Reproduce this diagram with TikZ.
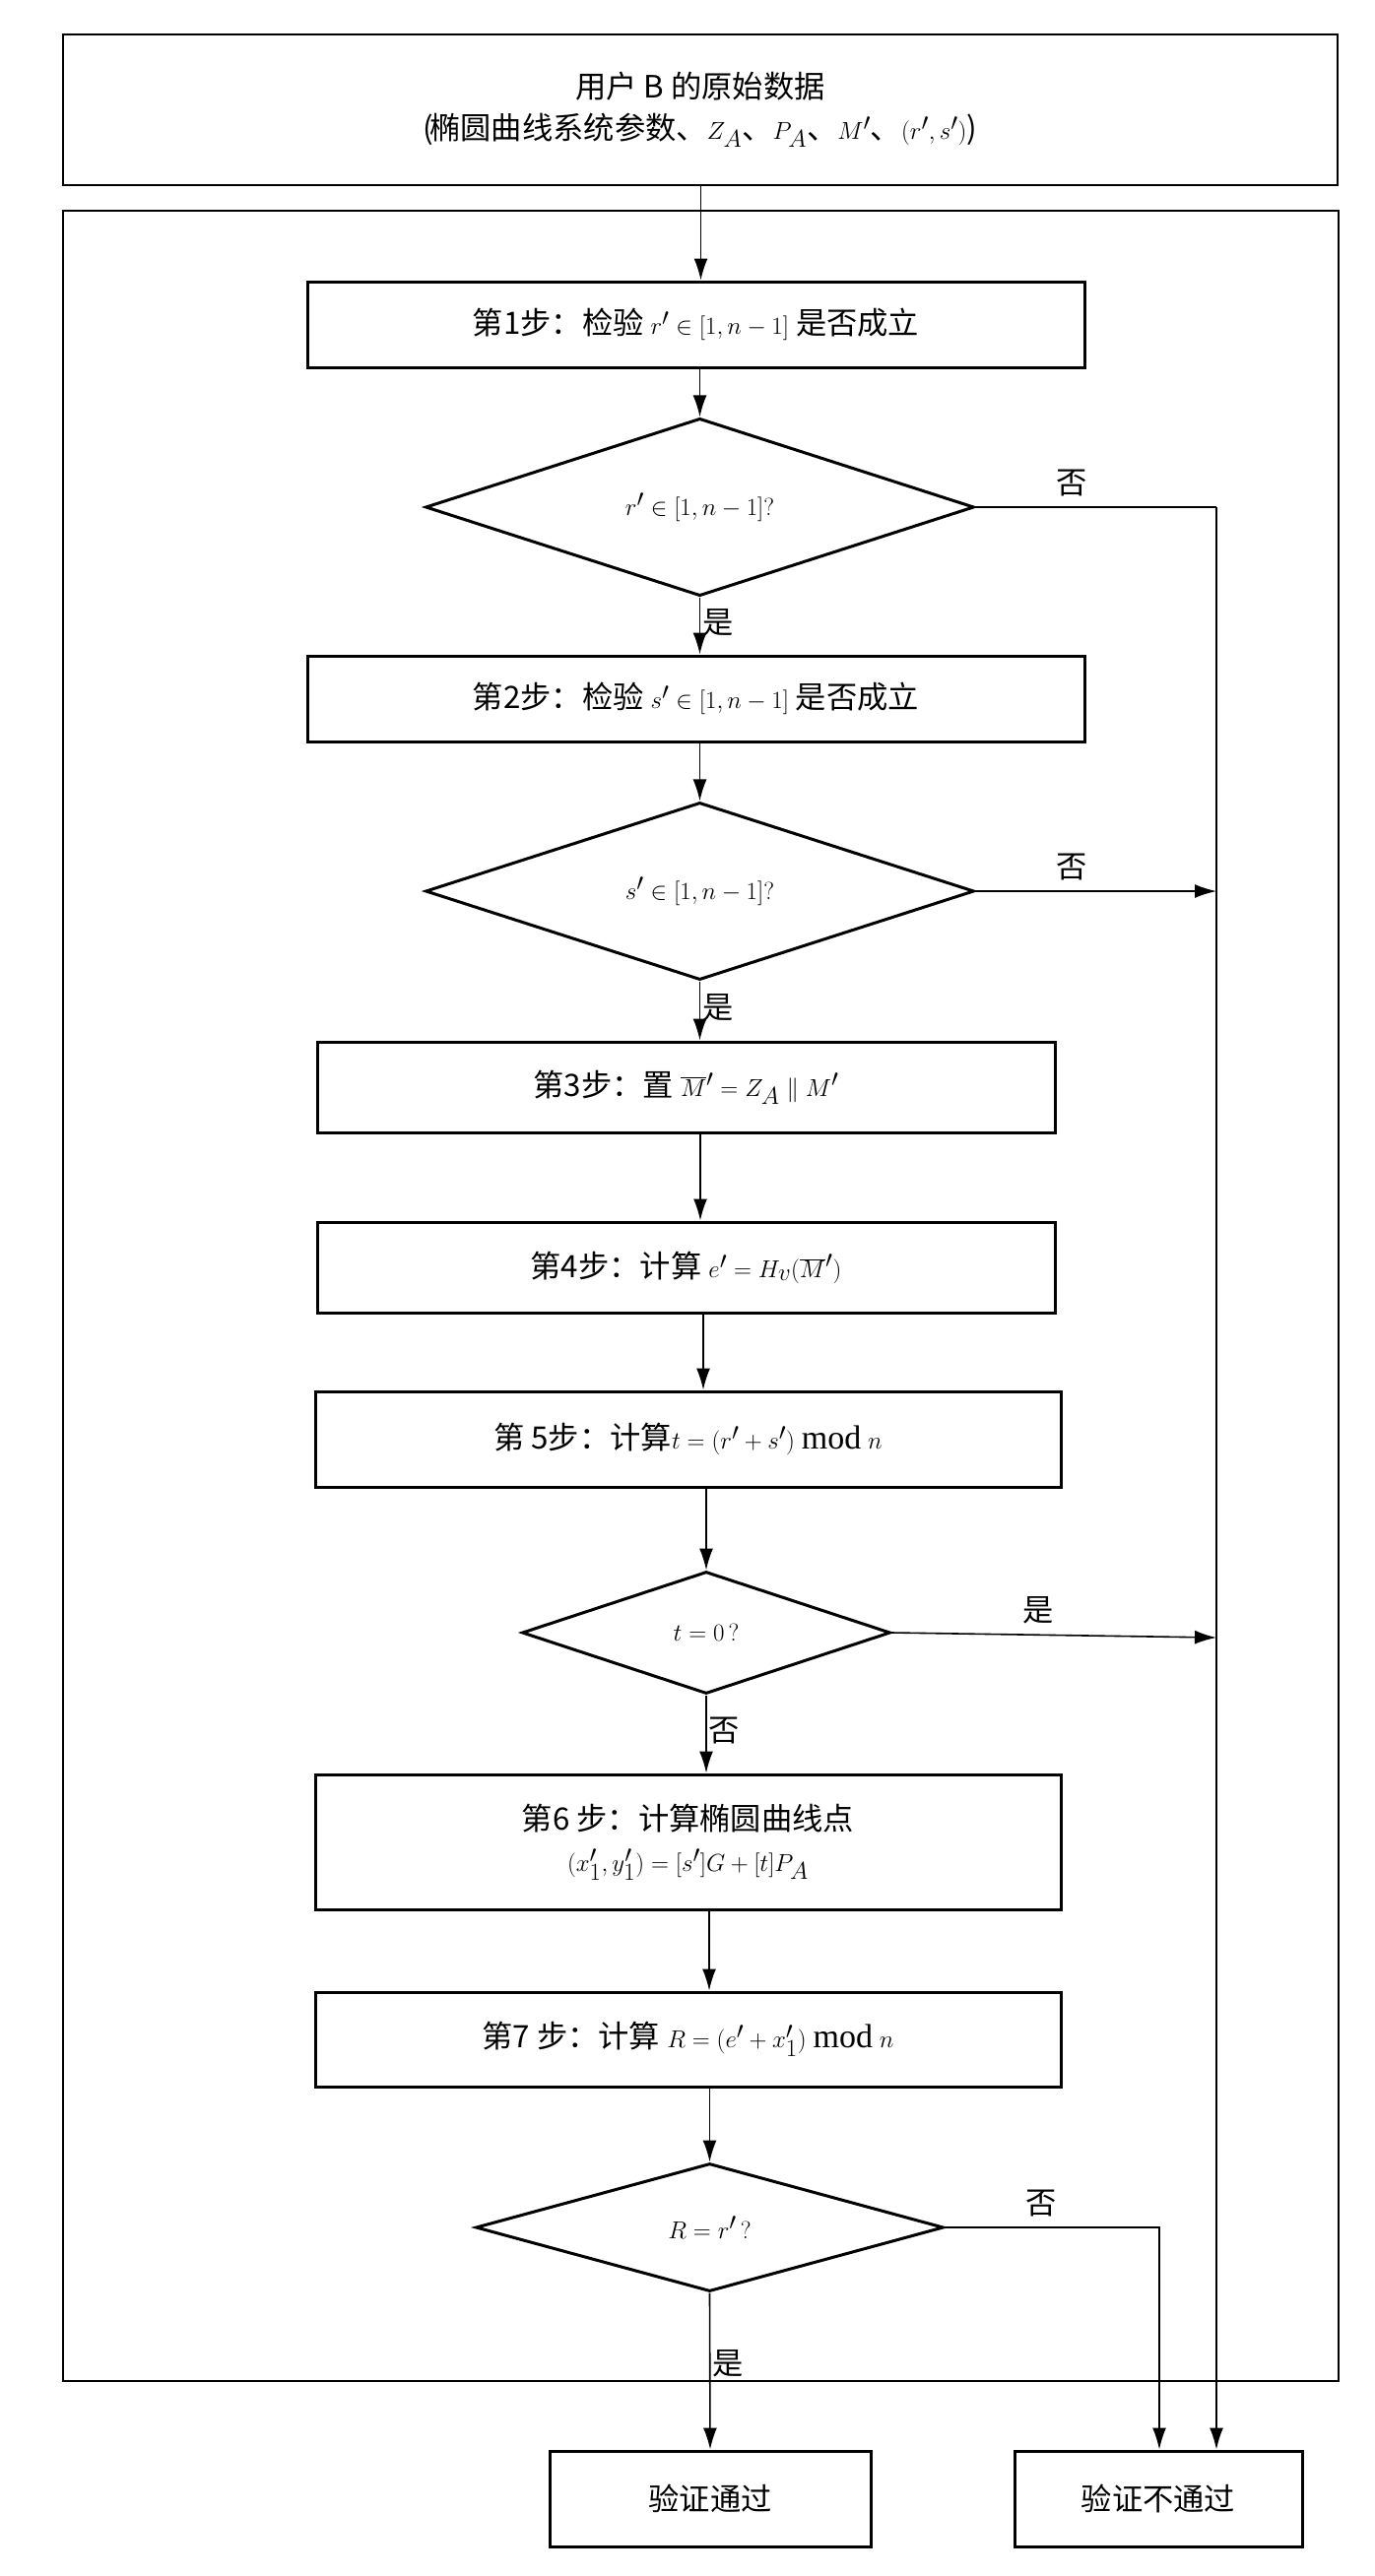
\documentclass[tikz,border=0pt]{standalone}
\usepackage{fontspec}
\setmainfont{Liberation Serif}
\newfontfamily\cjk{Noto Sans CJK SC}[Scale=0.92]
\usetikzlibrary{shapes.geometric,arrows.meta}
\begin{document}
\begin{tikzpicture}[x=1pt,y=-1pt,
  font=\fontsize{34}{42}\selectfont\cjk,
  stepbox/.style={draw,line width=3pt,inner sep=0pt,align=center},
  dec/.style={draw,diamond,line width=3pt,inner sep=0pt},
  arr/.style={-{Latex[length=22pt,width=14pt]},line width=1.6pt},
  ln/.style={line width=1.6pt},
  lab/.style={inner sep=2pt}]
\useasboundingbox[fill=white] (0,0) rectangle (1396,2616);
\node[draw,line width=2pt,minimum width=1294pt,minimum height=153pt,align=center] (top) at (711,111.5)
  {用户 B 的原始数据\\($\!$椭圆曲线系统参数、$Z_A$、$P_A$、$M'$、$(r',s')$)};
\draw[line width=2pt] (64,214) rectangle (1359,2418);
\node[stepbox,minimum width=789pt,minimum height=87pt] (s1) at (706.5,329.5) {第1步：检验 $r'\in[1,n-1]$ 是否成立};
\node[dec,minimum width=557pt,minimum height=150pt] (d1) at (710.5,515) {$r'\in[1,n-1]?$};
\node[stepbox,minimum width=789pt,minimum height=87pt] (s2) at (706.5,709.5) {第2步：检验 $s'\in[1,n-1]$ 是否成立};
\node[dec,minimum width=557pt,minimum height=150pt] (d2) at (710.5,905) {$s'\in[1,n-1]?$};
\node[stepbox,minimum width=749pt,minimum height=92pt] (s3) at (696.5,1104) {第3步：置 $\overline{M}'=Z_A\parallel M'$};
\node[stepbox,minimum width=749pt,minimum height=92pt] (s4) at (696.5,1287) {第4步：计算 $e'=H_v(\overline{M}')$};
\node[stepbox,minimum width=757pt,minimum height=97pt] (s5) at (698.5,1461.5) {第 5步：计算$t=(r'+s')\bmod n$};
\node[dec,minimum width=374pt,minimum height=124pt] (d3) at (717,1658) {$t=0\,?$};
\node[stepbox,minimum width=757pt,minimum height=137pt] (s6) at (698.5,1870.5) {第6 步：计算椭圆曲线点\\$(x_1',y_1')=[s']G+[t]P_A$};
\node[stepbox,minimum width=757pt,minimum height=96pt] (s7) at (698.5,2071) {第7 步：计算 $R=(e'+x_1')\bmod n$};
\node[dec,minimum width=475pt,minimum height=130pt] (d4) at (720.5,2262) {$R=r'\,?$};
\node[stepbox,minimum width=326pt,minimum height=97pt] (ok) at (721,2537.5) {验证通过};
\node[stepbox,minimum width=292pt,minimum height=97pt] (no) at (1176,2537.5) {验证不通过};
\coordinate (j2) at (1235,905);
\coordinate (j3) at (1235,1663);
\coordinate (r1) at (1235,515);
\coordinate (r4) at (1177,2262);
\draw[arr] (top.south -| s1.north) ++(5,0) coordinate (a0) -- (a0 |- s1.north);
\draw[arr] (s1.south -| d1.north) -- (d1.north);
\draw[arr] (d1.south) -- (d1.south |- s2.north) node[lab,pos=0.45,right] {是};
\draw[arr] (s2.south -| d2.north) -- (d2.north);
\draw[arr] (d2.south) -- (d2.south |- s3.north) node[lab,pos=0.45,right] {是};
\draw[arr] (s3.south -| 711,0) coordinate (a3) -- (a3 |- s4.north);
\draw[arr] (s4.south -| 714,0) coordinate (a4) -- (a4 |- s5.north);
\draw[arr] (s5.south -| d3.north) -- (d3.north);
\draw[arr] (d3.south) -- (d3.south |- s6.north) node[lab,pos=0.45,right] {否};
\draw[arr] (s6.south -| 720,0) coordinate (a6) -- (a6 |- s7.north);
\draw[arr] (s7.south -| d4.north) -- (d4.north);
\draw[arr] (d4.south) -- (ok.north) node[lab,pos=0.45,right] {是};
\draw[ln] (d1.east) -- (r1) node[lab,pos=0.4,above=8pt] {否};
\draw[arr] (r1) -- (r1 |- no.north);
\draw[arr] (d2.east) -- (j2) node[lab,pos=0.4,above=8pt] {否};
\draw[arr] (d3.east) -- (j3) node[lab,pos=0.45,above=8pt] {是};
\draw[arr] (d4.east) -- (r4) node[lab,pos=0.45,above=8pt] {否} -- (r4 |- no.north);
\end{tikzpicture}
\end{document}
